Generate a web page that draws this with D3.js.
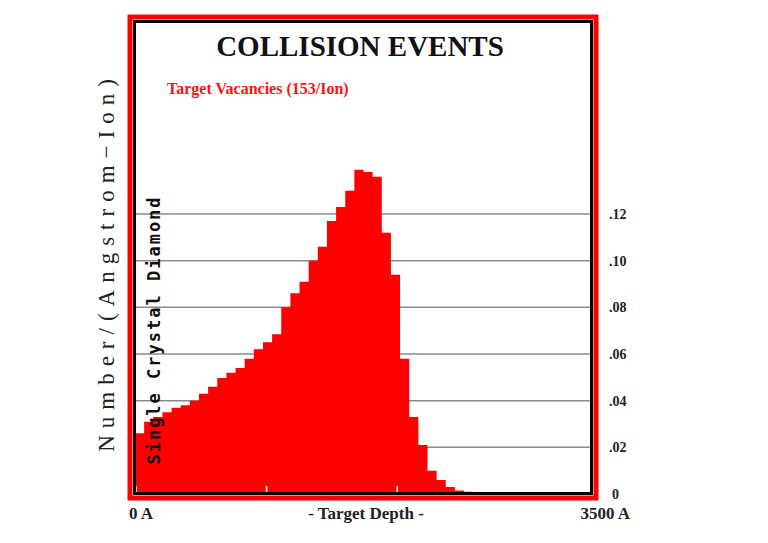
<!DOCTYPE html>
<html><head><meta charset="utf-8">
<script src="https://cdn.jsdelivr.net/npm/d3@7"></script>
<style>body{margin:0;background:#fff}</style>
</head><body>
<svg id="c" width="768" height="543"></svg>
<script>
// Vacancy profile, 70 A bins from 0 to 3500 A
const binWidth = 70;
const vacancies = [0.026,0.031,0.033,0.035,0.037,0.038,0.040,0.043,0.046,0.0497,
  0.052,0.054,0.058,0.062,0.065,0.0685,0.080,0.086,0.091,0.100,
  0.106,0.117,0.123,0.130,0.139,0.138,0.136,0.112,0.094,0.058,
  0.033,0.021,0.010,0.006,0.003,0.0015,0.001,0.0008,0.0006,0.0005,
  0.0005,0.0004,0.0004,0.0003,0.0003,0.0003,0.0002,0.0002,0.0002,0.0002];
const yTicks = [0,0.02,0.04,0.06,0.08,0.10,0.12];
const yTickLabels = ["0",".02",".04",".06",".08",".10",".12"];
const xMarks = [0,1000,2000,3000];

const svg = d3.select("#c");
const x = d3.scaleLinear().domain([0,3500]).range([135,592]);
const y = d3.scaleLinear().domain([0,0.12]).range([494,214]);

// gridlines
svg.selectAll(".grid").data(yTicks.slice(1)).enter().append("line")
  .attr("x1",135).attr("x2",592)
  .attr("y1",d=>y(d)).attr("y2",d=>y(d))
  .attr("stroke","#8a8a8a").attr("stroke-width",1.5);

// histogram as stepped area
const pts = vacancies.map((v,i)=>[i*binWidth,v]).concat([[vacancies.length*binWidth,vacancies[vacancies.length-1]]]);
svg.append("path").datum(pts)
  .attr("d",d3.area().curve(d3.curveStepAfter).x(d=>x(d[0])).y0(y(0)).y1(d=>y(d[1])))
  .attr("fill","#ff0000");

// small white ticks on baseline
svg.selectAll(".xt").data(xMarks).enter().append("line")
  .attr("x1",d=>x(d)+1).attr("x2",d=>x(d)+1)
  .attr("y1",486).attr("y2",493)
  .attr("stroke","#fff").attr("stroke-width",1.5);

// frames
svg.append("rect").attr("x",130).attr("y",17).attr("width",466).attr("height",481)
  .attr("fill","none").attr("stroke","#ff0000").attr("stroke-width",5);
svg.append("rect").attr("x",134.5).attr("y",21.5).attr("width",457).attr("height",472)
  .attr("fill","none").attr("stroke","#000").attr("stroke-width",3);

// right tick labels
svg.selectAll(".yl").data(yTicks).enter().append("text")
  .attr("x",d=>d===0?612:609).attr("y",d=>y(d)+5)
  .attr("font-family","Liberation Serif").attr("font-size",14).attr("font-weight","bold")
  .attr("fill","#222")
  .text((d,i)=>yTickLabels[i]);

// titles
svg.append("text").attr("x",360).attr("y",56).attr("text-anchor","middle")
  .attr("font-family","Liberation Serif").attr("font-weight","bold").attr("font-size",29)
  .attr("fill","#111").text("COLLISION EVENTS");
svg.append("text").attr("x",167).attr("y",94)
  .attr("font-family","Liberation Serif").attr("font-weight","bold").attr("font-size",16)
  .attr("fill","#ff1010").text("Target Vacancies (153/Ion)");

// y label
svg.append("text").attr("transform","translate(114,262) rotate(-90)")
  .attr("text-anchor","middle")
  .attr("font-family","Liberation Serif").attr("font-size",23).attr("letter-spacing",7)
  .attr("fill","#222").text("Number/(Angstrom\u2212Ion)");
svg.append("text").attr("transform","translate(160,330) rotate(-90)")
  .attr("text-anchor","middle")
  .attr("font-family","DejaVu Sans Mono").attr("font-weight","bold").attr("font-size",17)
  .attr("letter-spacing",2).attr("fill","#111").text("Single Crystal Diamond");

// bottom labels
const bl = svg.append("g").attr("font-family","Liberation Serif").attr("font-weight","bold")
  .attr("font-size",17).attr("fill","#222");
bl.append("text").attr("x",129).attr("y",519).text("0 A");
bl.append("text").attr("x",366).attr("y",519).attr("text-anchor","middle").text("- Target Depth -");
bl.append("text").attr("x",630).attr("y",519).attr("text-anchor","end").text("3500 A");
</script>
</body></html>
